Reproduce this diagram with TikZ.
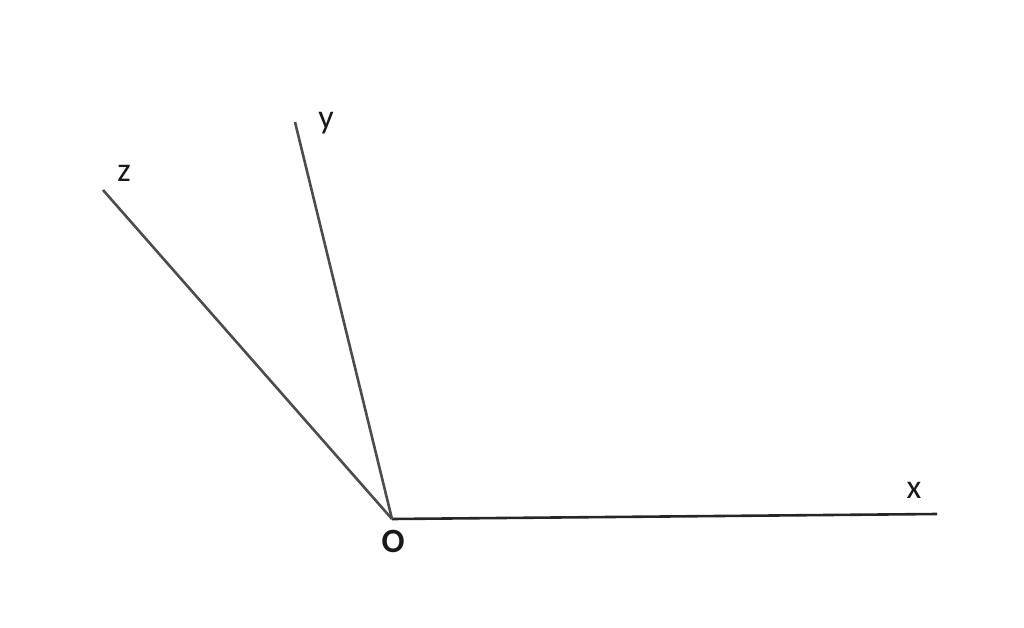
\documentclass[tikz,border=0pt]{standalone}
\usepackage{fontspec}
\setmainfont{Carlito}
\begin{document}
\begin{tikzpicture}[x=1pt,y=-1pt,
  axis/.style={draw=black!70, line width=2.6pt},
  lbl/.style={inner sep=0pt, text=black!90, font=\fontsize{34}{36}\selectfont}]
\useasboundingbox (0,0) rectangle (1024,628);
\coordinate (O) at (392,519);
\coordinate (X) at (937,514);
\coordinate (Y) at (295,122);
\coordinate (Z) at (103,190);
\draw[axis, draw=black!85] (O) -- (X);
\draw[axis] (O) -- (Y);
\draw[axis] (O) -- (Z);
\node[lbl] (lx) at (914,490) {x};
\node[lbl] (ly) at (326,123) {y};
\node[lbl] (lz) at (124,173) {z};
\node[lbl, font=\bfseries\fontsize{34}{36}\selectfont] (lo) at (393,541) {O};
\end{tikzpicture}
\end{document}
